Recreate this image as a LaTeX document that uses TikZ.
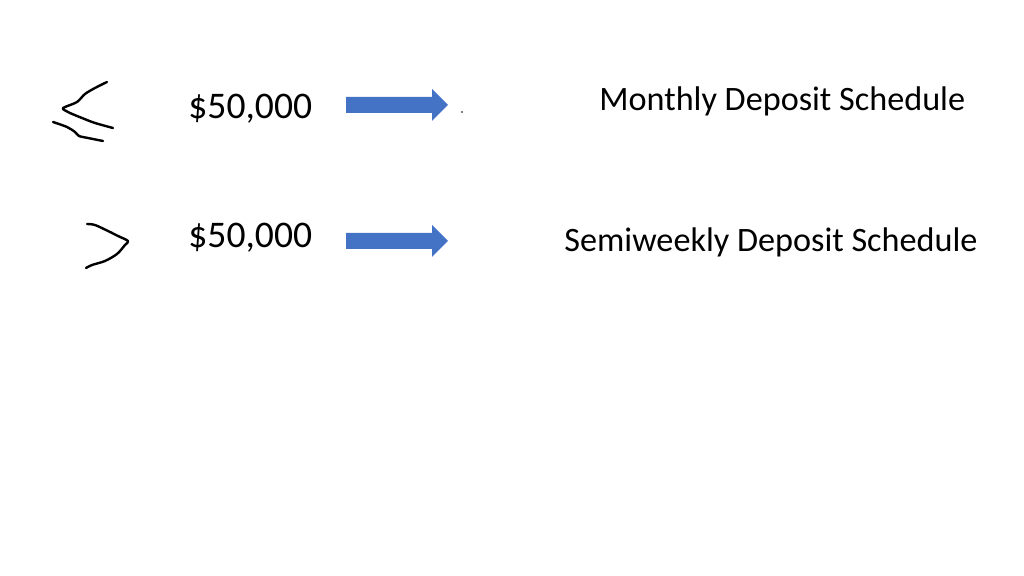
\documentclass[tikz,border=0pt]{standalone}
\usepackage{fontspec}
\setmainfont{Carlito}
\tikzset{
    amount/.style={anchor=base west,inner sep=0pt,font=\fontsize{18.8}{20}\selectfont},
    sched/.style={anchor=base west,inner sep=0pt,font=\fontsize{17.1}{19}\selectfont},
    pen/.style={line width=1.2pt,line cap=round,line join=round},
}
\definecolor{arrowblue}{HTML}{4472C4}
\begin{document}
\begin{tikzpicture}[x=0.5pt,y=-0.5pt]
    \useasboundingbox (0,0) rectangle (1024,576);
    % handwritten signs
    \draw[pen] plot[smooth] coordinates {(107,82) (95,88) (85,94) (77,102) (65,107) (63,109) (70,113) (82,118) (95,123) (113,128)};
    \draw[pen] plot[smooth] coordinates {(53,122) (67,127) (75,132) (79,136) (88,138) (103,141)};
    \draw[pen] plot[smooth] coordinates {(87,224) (95,225) (108,231) (118,236) (128,241) (125,245) (117,254) (105,261) (92,265) (86,268)};
    % amounts
	\node[amount] (amtA) at (188,119) {\$50,000};
	\node[amount] (amtB) at (188,248) {\$50,000};
    % block arrows
	\fill[arrowblue] (346,97) -- (432,97) -- (432,89) -- (448,105) -- (432,121) -- (432,113) -- (346,113) -- cycle;
	\fill[arrowblue] (346,233) -- (432,233) -- (432,225) -- (448,241) -- (432,257) -- (432,249) -- (346,249) -- cycle;
	\fill (462,112) circle (0.8);
    % schedules
	\node[sched] (schA) at (599,111) {Monthly Deposit Schedule};
	\node[sched] (schB) at (564,252) {Semiweekly Deposit Schedule};
\end{tikzpicture}
\end{document}
